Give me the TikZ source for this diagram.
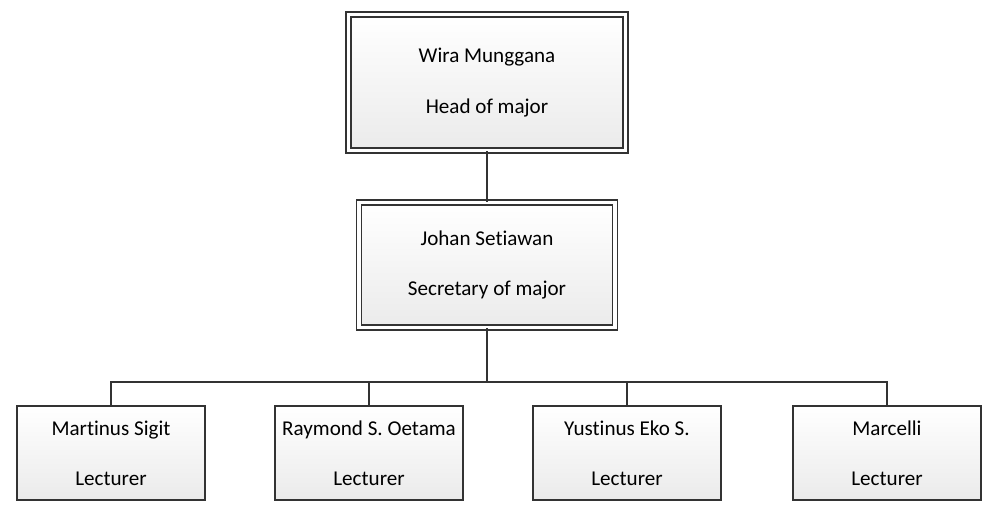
\documentclass[tikz,border=0pt]{standalone}
\usepackage{fontspec}
\setmainfont[Ligatures=NoCommon]{Carlito}
\usetikzlibrary{positioning,calc}

\begin{document}
\begin{tikzpicture}[
  x=0.025cm,y=-0.025cm,
  font=\fontsize{15}{18}\selectfont,
  box/.style={draw=black!80,line width=1.3pt,top color=white,bottom color=black!8,
              align=center,inner sep=0pt},
  head/.style={box,double=white,double distance=2.4pt,line width=1.2pt},
  staff/.style={box,minimum width=4.7cm,minimum height=2.35cm},
  link/.style={draw=black!80,line width=2pt},
]
\useasboundingbox (0,0) rectangle (995,513);
% ---- heads of the major ------------------------------------------------
\node[head,minimum width=6.925cm,minimum height=3.4cm] (WM) at (487,82.5)
  {Wira Munggana\\[0.62cm]Head of major};
\node[head,minimum width=6.4cm,minimum height=3.125cm] (JS) at (487,265)
  {Johan Setiawan\\[0.62cm]Secretary of major};
% ---- lecturers ---------------------------------------------------------
\node[staff] (MS) at (111,453) {Martinus Sigit\\[0.62cm]Lecturer};
\node[staff] (RO) at (369,453) {Raymond S. Oetama\\[0.62cm]Lecturer};
\node[staff] (YE) at (627,453) {Yustinus Eko S.\\[0.62cm]Lecturer};
\node[staff] (MC) at (887,453) {Marcelli\\[0.62cm]Lecturer};
% connectors
\coordinate (bus) at (487,382);
\draw[link] (WM.south) -- (JS.north);
\draw[link] (JS.south) -- (bus);
\foreach \n in {MS,RO,YE,MC}
  \draw[link] (bus) -| (\n.north);
\end{tikzpicture}
\end{document}
